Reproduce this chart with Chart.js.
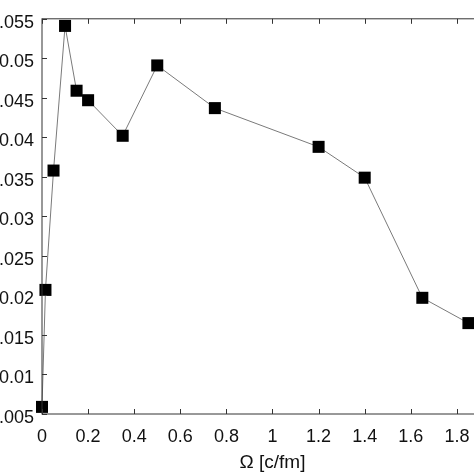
<!DOCTYPE html>
<html>
<head>
<meta charset="utf-8">
<script src="https://cdn.jsdelivr.net/npm/chart.js@4/dist/chart.umd.min.js"></script>
<style>
  html, body { margin: 0; padding: 0; background: #fff; overflow: hidden; width: 474px; height: 474px; }
  #wrap { position: absolute; left: -20px; top: 0; width: 540px; height: 474px; }
</style>
</head>
<body>
<div id="wrap"><canvas id="omegaChart" width="540" height="474"></canvas></div>
<script>
// values
const omega = [0, 0.015, 0.05, 0.1, 0.15, 0.2, 0.35, 0.5, 0.75, 1.2, 1.4, 1.65, 1.85];
const yValues = [0.0059, 0.0207, 0.0358, 0.0541, 0.0459, 0.0447, 0.0402, 0.0491, 0.0437, 0.0388, 0.0349, 0.0197, 0.0165];
const xTicks = [0, 0.2, 0.4, 0.6, 0.8, 1, 1.2, 1.4, 1.6, 1.8, 2];
const yTicks = [0.005, 0.01, 0.015, 0.02, 0.025, 0.03, 0.035, 0.04, 0.045, 0.05, 0.055];

const fmt = v => Number(v.toFixed(3)).toString();
const axisColor = '#333';

// matlab-style frame with inner tick marks
const frame = {
    id: 'frame',
    afterDraw(chart) {
        const { ctx, chartArea: a, scales } = chart;
        ctx.save();
        ctx.strokeStyle = axisColor;
        ctx.lineWidth = 1;
        ctx.strokeRect(a.left, a.top, a.right - a.left, a.bottom - a.top);
        ctx.beginPath();
        xTicks.forEach(t => {
            const px = Math.round(scales.x.getPixelForValue(t)) + 0.5;
            ctx.moveTo(px, a.bottom); ctx.lineTo(px, a.bottom - 5);
            ctx.moveTo(px, a.top); ctx.lineTo(px, a.top + 5);
        });
        yTicks.forEach(t => {
            const py = Math.round(scales.y.getPixelForValue(t)) + 0.5;
            ctx.moveTo(a.left, py); ctx.lineTo(a.left + 5, py);
            ctx.moveTo(a.right, py); ctx.lineTo(a.right - 5, py);
        });
        ctx.stroke();
        ctx.restore();
    }
};

const ctx = document.getElementById('omegaChart').getContext('2d');
new Chart(ctx, {
    type: 'line',
    data: {
        datasets: [{
            data: omega.map((x, i) => ({ x: x, y: yValues[i] })),
            borderColor: '#7a7a7a',
            borderWidth: 1,
            pointStyle: 'rect',
            pointRadius: 8.5,
            pointBackgroundColor: '#000',
            pointBorderColor: '#000',
            pointBorderWidth: 0,
            tension: 0,
            clip: false
        }]
    },
    options: {
        responsive: false,
        animation: false,
        devicePixelRatio: 1,
        layout: { padding: { top: 4.5, right: 10.5, left: 0, bottom: 0 } },
        plugins: { legend: { display: false }, tooltip: { enabled: false } },
        scales: {
            x: {
                type: 'linear',
                min: 0,
                max: 2,
                afterBuildTicks: s => { s.ticks = xTicks.map(v => ({ value: v })); },
                afterFit: s => { s.height = 60; },
                grid: { display: false, drawTicks: false },
                border: { display: false },
                ticks: {
                    padding: 12,
                    color: '#111',
                    font: { family: 'Liberation Sans, Arial', size: 18 },
                    callback: v => fmt(v),
                    autoSkip: false,
                    maxRotation: 0
                },
                title: {
                    display: true,
                    text: 'Ω [c/fm]',
                    color: '#111',
                    font: { family: 'Liberation Sans, Arial', size: 19 },
                    padding: { top: 0, bottom: 0 }
                }
            },
            y: {
                type: 'linear',
                min: 0.005,
                max: 0.055,
                afterBuildTicks: s => { s.ticks = yTicks.map(v => ({ value: v })); },
                afterFit: s => { s.width = 62; },
                grid: { display: false, drawTicks: false },
                border: { display: false },
                ticks: {
                    padding: 8,
                    labelOffset: 4,
                    color: '#111',
                    font: { family: 'Liberation Sans, Arial', size: 18 },
                    callback: v => fmt(v),
                    autoSkip: false
                }
            }
        }
    },
    plugins: [frame]
});
</script>
</body>
</html>
